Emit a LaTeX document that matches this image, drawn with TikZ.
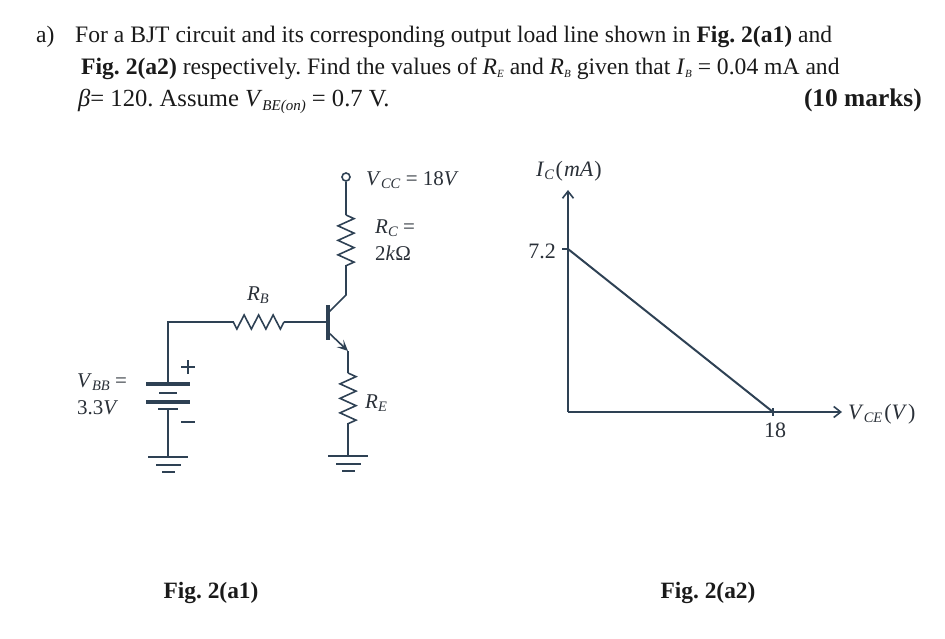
\documentclass[tikz,border=0pt]{standalone}
\usepackage{amsmath}
\usepackage{fontspec}
\setmainfont{Liberation Serif}
\usepackage{tikz}
\usetikzlibrary{arrows,arrows.meta,decorations.pathmorphing}
\definecolor{wirecol}{HTML}{2E4154}
\definecolor{inkcol}{HTML}{1A1A1A}
\definecolor{labelcol}{HTML}{2A3038}
\frenchspacing
\newcommand{\smallsub}[1]{\raisebox{-3pt}{\fontsize{11}{11}\selectfont\textit{#1}}}
\newcommand{\widesub}[1]{\raisebox{-4pt}{\fontsize{15}{15}\selectfont\textit{#1}}}
\newcommand{\circsub}[1]{\raisebox{-3.5pt}{\fontsize{14.5}{14.5}\selectfont\textit{#1}}}
\tikzset{
  wire/.style={draw=wirecol,line width=1.6pt},
  plate/.style={draw=wirecol,line width=2.6pt},
  resistor/.style={wire,decorate,decoration={zigzag,segment length=14.5pt,amplitude=8pt}},
  question/.style={inkcol,anchor=base west,inner sep=0pt,font=\fontsize{23.6}{23.6}\selectfont},
  figlabel/.style={inkcol,inner sep=0pt,font=\bfseries\fontsize{23.4}{23.4}\selectfont},
  circlabel/.style={labelcol,inner sep=0pt,anchor=west,font=\fontsize{21}{21}\selectfont},
  plotlabel/.style={circlabel,font=\fontsize{22}{22}\selectfont},
  plotaxis/.style={wire,-{Straight Barb[length=7pt,width=11pt]}}
}
\begin{document}
\begin{tikzpicture}[x=1pt,y=-1pt]
  \useasboundingbox (0,0) rectangle (945,639);

  % question text
  \node[question] (qa) at (36,43) {a)};
  \node[question] (qone) at (75,43) {For a BJT circuit and its corresponding output load line shown in \textbf{Fig. 2(a1)} and};
  \node[question] (qtwo) at (81,75) {\textbf{Fig. 2(a2)} respectively. Find the values of \textit{R}\smallsub{E} and \textit{R}\smallsub{B} given that \textit{I}\smallsub{B} = 0.04 mA and};
  \node[question,font=\fontsize{24.6}{24.6}\selectfont] (qthree) at (78,107) {\textit{β}= 120. Assume \textit{V}\widesub{BE(on)} = 0.7 V.};
  \node[question,anchor=base east,font=\bfseries\fontsize{25.4}{25.4}\selectfont] (qmarks) at (922,107) {(10 marks)};

  % circuit
  \node[circle,wire,fill=white,inner sep=0pt,minimum size=8pt] (vcc) at (346,177) {};
  \coordinate (rctop) at (346,215);
  \coordinate (rcbot) at (346,267);
  \coordinate (coll) at (346,295);
  \coordinate (barc) at (328,313);
  \coordinate (bare) at (328,332);
  \coordinate (emit) at (348,351);
  \coordinate (retop) at (348,373);
  \coordinate (rebot) at (348,428);
  \coordinate (gndE) at (348,456);
  \coordinate (base) at (328,322);
  \coordinate (rbr) at (284,322);
  \coordinate (rbl) at (227,322);
  \coordinate (corner) at (168,322);
  \coordinate (battop) at (168,384);
  \coordinate (batbot) at (168,409);
  \coordinate (gndB) at (168,457);

  \draw[wire] (vcc) -- (rctop);
  \draw[resistor] (rctop) -- (rcbot);
  \draw[wire] (rcbot) -- (coll) -- (barc);
  \draw[plate,line width=3.6pt] (328,305) -- (328,340);
  \draw[wire,-{Stealth[length=11pt,width=10pt,inset=5pt]}] (bare) -- (emit);
  \draw[wire] (emit) -- (retop);
  \draw[resistor] (retop) -- (rebot);
  \draw[wire] (rebot) -- (gndE);
  \draw[wire] (base) -- (rbr);
  \draw[resistor,decoration={amplitude=7pt}] (rbr) -- (rbl);
  \draw[wire] (rbl) -- (corner) -- (battop);
  \draw[wire] (batbot) -- (gndB);

  % battery plates
  \foreach \yy/\hw/\lw in {384/22/3.8, 393/9/2, 402/22/3.8, 409/10/2}
    \draw[plate,line width=\lw pt] (168-\hw,\yy) -- (168+\hw,\yy);
  \draw[wire,line width=2.4pt] (181,367) -- (195,367) (188,360) -- (188,374);
  \draw[wire,line width=2.4pt] (181,422) -- (195,422);

  % ground symbols
  \foreach \gx/\gy in {348/456, 168/457}{
    \draw[wire,line width=2pt] (\gx-20,\gy) -- (\gx+20,\gy);
    \draw[wire,line width=2pt] (\gx-12,\gy+8) -- (\gx+13,\gy+8);
    \draw[wire,line width=2pt] (\gx-6,\gy+15) -- (\gx+7,\gy+15);
  }

  % circuit labels
  \node[circlabel] (lvcc) at (366,180) {\textit{V}\circsub{CC} = 18\textit{V}};
  \node[circlabel] (lrc) at (375,228) {\textit{R}\circsub{C} =};
  \node[circlabel] (lrcv) at (375,253) {2\textit{k}Ω};
  \node[circlabel,anchor=center] (lrb) at (258,295) {\textit{R}\circsub{B}};
  \node[circlabel] (lre) at (365,403) {\textit{R}\circsub{E}};
  \node[circlabel] (lvbb) at (77,382) {\textit{V}\circsub{BB} =};
  \node[circlabel] (lvbbv) at (77,408) {3.3\textit{V}};

  % load line plot
  \coordinate (orig) at (568,412);
  \coordinate (ytop) at (568,190);
  \coordinate (xend) at (842,412);
  \coordinate (icut) at (568,249);
  \coordinate (vcut) at (773,412);
  \draw[plotaxis] (orig) -- (ytop);
  \draw[plotaxis] (orig) -- (xend);
  \draw[wire,line width=2pt] (icut) -- (vcut);
  \draw[wire] (icut) -- ++(-6,0);
  \draw[wire] (773,408) -- (773,416);
  \node[plotlabel,anchor=center] (l72) at (542,251) {7.2};
  \node[plotlabel,anchor=center] (l18) at (775,430) {18};
  \node[plotlabel] (lic) at (536,171) {\textit{I}\circsub{C}\kern1.5pt(\kern1pt\textit{mA}\kern1pt)};
  \node[plotlabel] (lvce) at (848,414) {\textit{V}\circsub{CE}\kern2pt(\textit{V}\kern1pt)};

  % captions
  \node[figlabel] (fone) at (211,593) {Fig. 2(a1)};
  \node[figlabel] (ftwo) at (708,593) {Fig. 2(a2)};
\end{tikzpicture}
\end{document}
